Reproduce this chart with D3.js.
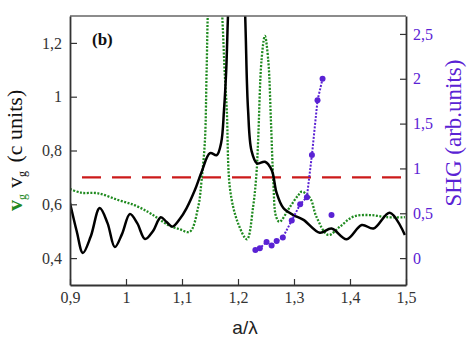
<!DOCTYPE html>
<html>
<head>
<meta charset="utf-8">
<script src="https://cdn.jsdelivr.net/npm/d3@7/dist/d3.min.js"></script>
<style>
  html, body { margin: 0; padding: 0; background: #fff; }
  svg { display: block; }
</style>
</head>
<body>
<svg id="chart" width="474" height="342"></svg>
<script>
// Group velocity (black: v_g, green: v_g of the second structure) vs normalized frequency a/λ
const vgX = [0.900, 0.912, 0.923, 0.937, 0.953, 0.967, 0.980, 0.993, 1.007, 1.020, 1.034, 1.048,
  1.062, 1.072, 1.083, 1.096, 1.108, 1.123, 1.135, 1.150, 1.162, 1.170, 1.175, 1.179, 1.183,
  1.192, 1.203, 1.212, 1.216, 1.218, 1.224, 1.234, 1.248, 1.260, 1.269, 1.281, 1.299, 1.317,
  1.346, 1.367, 1.394, 1.421, 1.442, 1.471, 1.498];
const vgY = [0.605, 0.500, 0.419, 0.480, 0.586, 0.530, 0.441, 0.490, 0.564, 0.530, 0.471, 0.500,
  0.552, 0.535, 0.517, 0.545, 0.585, 0.653, 0.720, 0.790, 0.783, 0.830, 0.950, 1.100, 1.350,
  1.700, 1.700, 1.350, 1.050, 0.950, 0.800, 0.752, 0.758, 0.728, 0.642, 0.586, 0.560, 0.542,
  0.494, 0.510, 0.470, 0.523, 0.510, 0.569, 0.486];

const vg2X = [0.900, 0.920, 0.950, 0.986, 1.015, 1.039, 1.057, 1.075, 1.096, 1.114, 1.129, 1.135,
  1.141, 1.144, 1.148, 1.158, 1.169, 1.173, 1.176, 1.180, 1.186, 1.200, 1.216, 1.227, 1.233,
  1.236, 1.242, 1.248, 1.254, 1.259, 1.263, 1.268, 1.274, 1.293, 1.308, 1.314, 1.329, 1.340,
  1.361, 1.382, 1.406, 1.436, 1.466, 1.498];
const vg2Y = [0.657, 0.643, 0.641, 0.616, 0.597, 0.572, 0.548, 0.523, 0.507, 0.498, 0.591, 0.690,
  0.839, 1.100, 1.400, 1.600, 1.400, 1.250, 1.100, 0.950, 0.653, 0.530, 0.470, 0.591, 0.715,
  0.839, 1.136, 1.226, 1.136, 0.900, 0.690, 0.554, 0.535, 0.591, 0.635, 0.647, 0.622, 0.554,
  0.486, 0.517, 0.554, 0.560, 0.552, 0.552];

// Second-harmonic signal (right axis)
const shgX = [1.231, 1.239, 1.251, 1.260, 1.269, 1.280, 1.296, 1.311, 1.323, 1.332, 1.342, 1.351];
const shgY = [0.09, 0.11, 0.18, 0.14, 0.19, 0.23, 0.42, 0.60, 0.68, 1.15, 1.76, 2.00];
const shgLoneX = [1.367];
const shgLoneY = [0.48];

// Speed of light threshold line
const thresholdY = 0.7;

const xTicks = [0.9, 1.0, 1.1, 1.2, 1.3, 1.4, 1.5];
const xTickLabels = ["0,9", "1", "1,1", "1,2", "1,3", "1,4", "1,5"];
const yTicks = [0.4, 0.6, 0.8, 1.0, 1.2];
const yTickLabels = ["0,4", "0,6", "0,8", "1", "1,2"];
const y2Ticks = [0, 0.5, 1, 1.5, 2, 2.5];
const y2TickLabels = ["0", "0,5", "1", "1,5", "2", "2,5"];

const pLeft = 70, pRight = 406, pTop = 16, pBottom = 285;
const purple = "#5a22d4";
const green = "#1f8a1f";
const serif = "Liberation Serif, DejaVu Serif, serif";

const svg = d3.select("#chart");
const x = d3.scaleLinear().domain([0.9, 1.5]).range([pLeft, pRight]);
const y = d3.scaleLinear().domain([0.3, 1.3]).range([pBottom, pTop]);
const y2 = d3.scaleLinear().domain([-0.3, 2.7]).range([pBottom, pTop]);

svg.append("defs").append("clipPath").attr("id", "plotClip")
  .append("rect").attr("x", pLeft).attr("y", pTop)
  .attr("width", pRight - pLeft).attr("height", pBottom - pTop);

const plot = svg.append("g").attr("clip-path", "url(#plotClip)");

// dashed threshold
plot.append("line")
  .attr("x1", x(0.9)).attr("x2", x(1.5))
  .attr("y1", y(thresholdY)).attr("y2", y(thresholdY))
  .attr("stroke", "#cc1a1a").attr("stroke-width", 2.4)
  .attr("stroke-dasharray", "19 11").attr("stroke-dashoffset", 18);

const lineGen = (xs, ys, sx, sy) => d3.line()
  .x((d, i) => sx(xs[i])).y((d, i) => sy(ys[i]))
  .curve(d3.curveCatmullRom.alpha(0.5))(xs);

// green dotted curve
plot.append("path")
  .attr("d", lineGen(vg2X, vg2Y, x, y))
  .attr("fill", "none").attr("stroke", green).attr("stroke-width", 2.3)
  .attr("stroke-dasharray", "2 1.5");

// black solid curve
plot.append("path")
  .attr("d", lineGen(vgX, vgY, x, y))
  .attr("fill", "none").attr("stroke", "#000").attr("stroke-width", 2.5);

// SHG dotted line with markers
plot.append("path")
  .attr("d", d3.line().x((d, i) => x(shgX[i])).y((d, i) => y2(shgY[i]))(shgX))
  .attr("fill", "none").attr("stroke", purple).attr("stroke-width", 2)
  .attr("stroke-dasharray", "2 1.5");
plot.selectAll("circle.shg").data(shgX).enter().append("circle")
  .attr("class", "shg")
  .attr("cx", (d) => x(d)).attr("cy", (d, i) => y2(shgY[i]))
  .attr("r", 3).attr("fill", purple);
plot.selectAll("circle.lone").data(shgLoneX).enter().append("circle")
  .attr("class", "lone")
  .attr("cx", (d) => x(d)).attr("cy", (d, i) => y2(shgLoneY[i]))
  .attr("r", 3).attr("fill", purple);

// frame top
svg.append("line").attr("x1", pLeft).attr("x2", pRight).attr("y1", pTop).attr("y2", pTop)
  .attr("stroke", "#666").attr("stroke-width", 1.6);

function styleAxis(g, color) {
  g.attr("font-family", serif).attr("font-size", 16);
  g.selectAll(".domain").attr("stroke", "#333").attr("stroke-width", 1.8);
  g.selectAll(".tick line").attr("stroke", "#333").attr("stroke-width", 1.2);
  g.selectAll(".tick text").attr("fill", color);
}

const xAxis = svg.append("g").attr("transform", `translate(0,${pBottom})`)
  .call(d3.axisBottom(x).tickValues(xTicks)
    .tickFormat((d, i) => xTickLabels[i])
    .tickSizeInner(-6).tickSizeOuter(0).tickPadding(7));
styleAxis(xAxis, "#333");

const yAxis = svg.append("g").attr("transform", `translate(${pLeft},0)`)
  .call(d3.axisLeft(y).tickValues(yTicks)
    .tickFormat((d, i) => yTickLabels[i])
    .tickSizeInner(-7).tickSizeOuter(0).tickPadding(8));
styleAxis(yAxis, "#333");

const y2Axis = svg.append("g").attr("transform", `translate(${pRight},0)`)
  .call(d3.axisRight(y2).tickValues(y2Ticks)
    .tickFormat((d, i) => y2TickLabels[i])
    .tickSizeInner(-6).tickSizeOuter(0).tickPadding(7));
styleAxis(y2Axis, purple);

// panel label
svg.append("text").attr("x", 92).attr("y", 45)
  .attr("font-family", serif).attr("font-size", 17).attr("font-weight", "bold")
  .attr("fill", "#111").text("(b)");

// x title
svg.append("text").attr("x", 245).attr("y", 334).attr("text-anchor", "middle")
  .attr("font-family", "Liberation Sans, Arial, sans-serif").attr("font-size", 19)
  .attr("fill", "#222").text("a/λ");

// right title
svg.append("text")
  .attr("transform", "translate(461,133) rotate(-90)")
  .attr("text-anchor", "middle")
  .attr("font-family", serif).attr("font-size", 23)
  .attr("fill", purple).text("SHG (arb.units)");

// left title: v_g (green), v_g (c units)
const lt = svg.append("text")
  .attr("transform", "translate(22,211) rotate(-90)")
  .attr("font-family", serif).attr("font-size", 22);
lt.append("tspan").attr("fill", green).attr("font-weight", "bold").text("v");
lt.append("tspan").attr("fill", green).attr("dy", 4).attr("font-size", 12).text("g");
lt.append("tspan").attr("fill", "#111").attr("dy", -4).attr("dx", 6).text("v");
lt.append("tspan").attr("fill", "#111").attr("dy", 4).attr("font-size", 12).text("g");
lt.append("tspan").attr("fill", "#111").attr("dy", -4).attr("dx", 3).text(" (c units)");
</script>
</body>
</html>
